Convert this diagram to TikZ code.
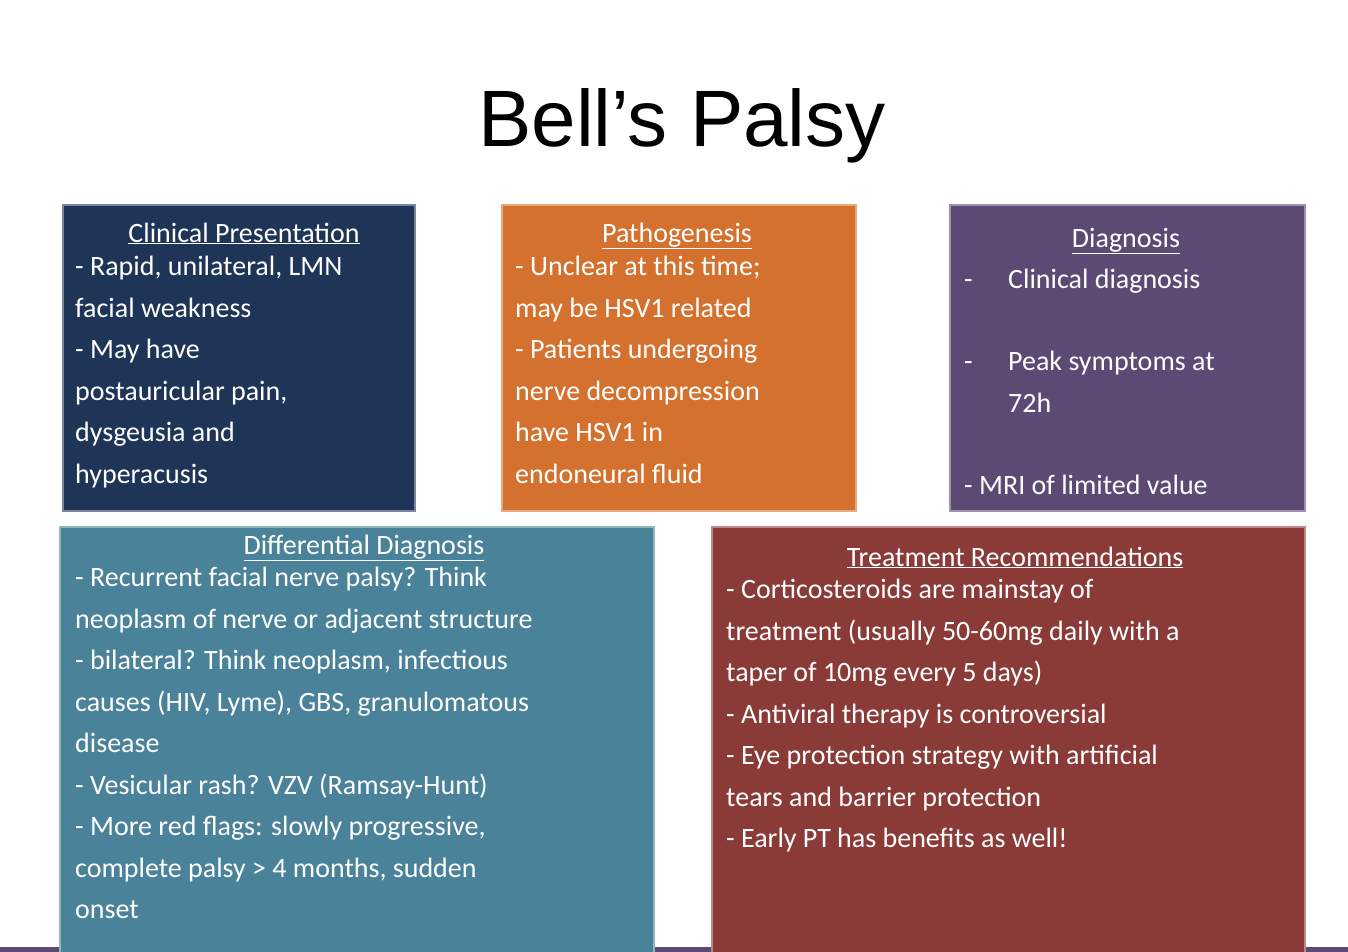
\documentclass[tikz,border=0pt]{standalone}
\usepackage{fontspec}
\setmainfont{Carlito}
\newfontfamily\titlefont{Liberation Sans}
\begin{document}
\begin{tikzpicture}[x=1pt,y=-1pt,
  box/.style={draw=#1!60!white,line width=1.2pt,fill=#1},
  body/.style={anchor=north west,align=left,text=white,inner sep=0pt,font=\fontsize{28}{41.5}\selectfont},
  head/.style={anchor=base,text=white,inner sep=0pt,font=\fontsize{28}{41.5}\selectfont}]
\definecolor{cnavy}{HTML}{1F3558}
\definecolor{corange}{HTML}{D4712E}
\definecolor{cpurple}{HTML}{5C4A75}
\definecolor{cteal}{HTML}{4A8399}
\definecolor{cred}{HTML}{8A3B38}
\useasboundingbox (0,0) rectangle (1348,952);
\fill[white] (0,0) rectangle (1348,952);
\fill[cpurple] (0,947) rectangle (1348,952);
\node[inner sep=0pt,font=\titlefont\fontsize{80}{90}\selectfont,anchor=base] (title) at (682,147) {Bell’s Palsy};
% boxes
\draw[box=cnavy] (63,205) rectangle (415,511);
\draw[box=corange] (502,205) rectangle (856,511);
\draw[box=cpurple] (950,205) rectangle (1305,511);
\draw[box=cteal] (60,527) rectangle (654,960);
\draw[box=cred] (712,527) rectangle (1305,960);
% Clinical
\node[head] (h1) at (244,242) {\underline{Clinical Presentation}};
\node[body] (b1) at (75,256) {- Rapid, unilateral, LMN\\facial weakness\\- May have\\postauricular pain,\\dysgeusia and\\hyperacusis};
% Pathogenesis
\node[head] (h2) at (677,242) {\underline{Pathogenesis}};
\node[body] (b2) at (515,256) {- Unclear at this time;\\may be HSV1 related\\- Patients undergoing\\nerve decompression\\have HSV1 in\\endoneural fluid};
% Diagnosis
\node[head] (h3) at (1126,247) {\underline{Diagnosis}};
\node[head,anchor=base west] (d1) at (964,288) {-};
\node[head,anchor=base west] (d2) at (1008,288) {Clinical diagnosis};
\node[head,anchor=base west] (d3) at (964,370) {-};
\node[head,anchor=base west] (d4) at (1008,370) {Peak symptoms at};
\node[head,anchor=base west] (d5) at (1008,412) {72h};
\node[head,anchor=base west] (d6) at (964,494) {- MRI of limited value};
% Differential
\node[head] (h4) at (364,554) {\underline{Differential Diagnosis}};
\node[body] (b4) at (75,567) {- Recurrent facial nerve palsy? Think\\neoplasm of nerve or adjacent structure\\- bilateral? Think neoplasm, infectious\\causes (HIV, Lyme), GBS, granulomatous\\disease\\- Vesicular rash? VZV (Ramsay-Hunt)\\- More red flags: slowly progressive,\\complete palsy > 4 months, sudden\\onset};
% Treatment
\node[head] (h5) at (1015,566) {\underline{Treatment Recommendations}};
\node[body] (b5) at (726,579) {- Corticosteroids are mainstay of\\treatment (usually 50-60mg daily with a\\taper of 10mg every 5 days)\\- Antiviral therapy is controversial\\- Eye protection strategy with artificial\\tears and barrier protection\\- Early PT has benefits as well!};
\end{tikzpicture}
\end{document}
